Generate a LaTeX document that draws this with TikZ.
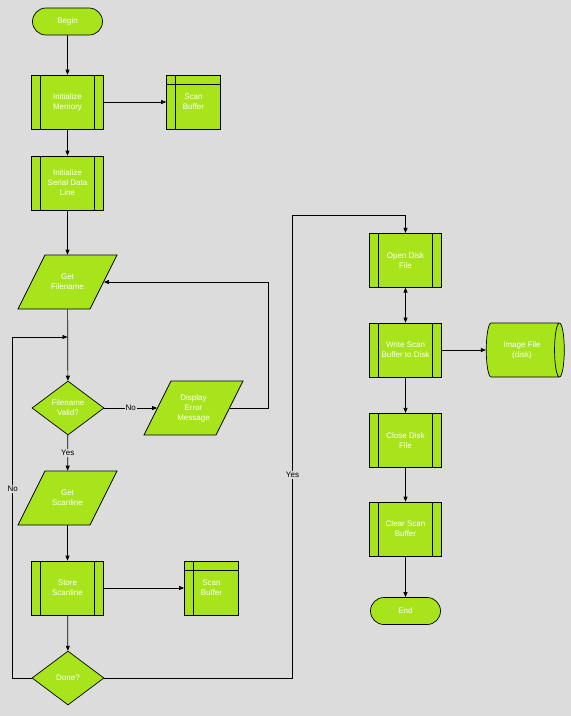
\documentclass[tikz,border=0pt]{standalone}
\usepackage{fontspec}
\setmainfont{Liberation Sans}
\usetikzlibrary{shapes.geometric,shapes.misc,arrows.meta}
\definecolor{chartgreen}{RGB}{168,228,28}
\definecolor{chartgray}{RGB}{220,220,220}

\begin{document}
\begin{tikzpicture}[x=1pt, y=-1pt, font=\fontsize{8}{10}\selectfont, line width=0.7pt,
  >={Triangle[length=5pt,width=4pt]},
  box/.style={draw, fill=chartgreen, text=white, align=center, inner sep=1pt},
  term/.style={box, rounded rectangle, minimum width=72pt, minimum height=27pt},
  proc/.style={box, rectangle, minimum width=72pt, minimum height=54pt,
    path picture={\draw ([xshift=9pt]path picture bounding box.north west) -- ([xshift=9pt]path picture bounding box.south west);
      \draw ([xshift=-9pt]path picture bounding box.north east) -- ([xshift=-9pt]path picture bounding box.south east);}},
  stor/.style={box, rectangle, minimum width=54pt, minimum height=54pt,
    path picture={\draw ([xshift=9pt]path picture bounding box.north west) -- ([xshift=9pt]path picture bounding box.south west);
      \draw ([yshift=-9pt]path picture bounding box.north west) -- ([yshift=-9pt]path picture bounding box.north east);}},
  io/.style={rectangle, text=white, align=center, inner sep=1pt, minimum width=72pt, minimum height=54pt},
  dec/.style={box, diamond, aspect=1.333, minimum width=72pt, minimum height=54pt, inner sep=0pt},
  disk/.style={box, cylinder, aspect=0.5, minimum width=54pt, minimum height=78pt,
    cylinder uses custom fill, cylinder body fill=chartgreen, cylinder end fill=chartgreen},
  lbl/.style={fill=chartgray, inner sep=1pt, text=black}]

  \useasboundingbox[fill=chartgray] (0,0) rectangle (571,716);

  % parallelograms under the io nodes
  \foreach \px/\py in {67.5/282, 193.5/408, 67.5/498}
    \draw[fill=chartgreen] (\px-49.5,\py+27) -- ++(72,0) -- ++(27,-54) -- ++(-72,0) -- cycle;

  % left column
  \node[term] (begin) at (67.5,21.5) {Begin};
  \node[proc] (initmem) at (67.5,102) {Initialize\\Memory};
  \node[stor] (scanbuf1) at (193.5,102) {Scan\\Buffer};
  \node[proc] (initser) at (67.5,183) {Initialize\\Serial Data\\Line};
  \node[io] (getfile) at (67.5,282) {Get\\Filename};
  \node[dec] (valid) at (68,408) {Filename\\Valid?};
  \node[io] (display) at (193.5,408) {Display\\Error\\Message};
  \node[io] (getscan) at (67.5,498) {Get\\Scanline};
  \node[proc] (storescan) at (67.5,588) {Store\\Scanline};
  \node[stor] (scanbuf2) at (211.5,588) {Scan\\Buffer};
  \node[dec] (done) at (68,678) {Done?};

  % right column
  \node[proc] (opendisk) at (405.5,260.3) {Open Disk\\File};
  \node[proc] (writescan) at (405.5,350) {Write Scan\\Buffer to Disk};
  \node[disk] (imagefile) at (522,350) {Image File\\(disk)};
  \node[proc] (closedisk) at (405.5,440.3) {Close Disk\\File};
  \node[proc] (clearscan) at (405.5,529) {Clear Scan\\Buffer};
  \node[term] (endnode) at (405.5,611) {End};

  \coordinate (loopin) at (67.5,337);
  \coordinate (yesup) at (292.5,215);

  \draw[->] (begin) -- (initmem);
  \draw[->] (initmem) -- (scanbuf1);
  \draw[->] (initmem) -- (initser);
  \draw[->] (initser) -- (getfile);
  \draw[->] (getfile) -- (valid);
  \draw[->] (valid) -- (display) node[lbl, midway] {No};
  \draw[->] (display.east) -- ++(38,0) |- (getfile.east);
  \draw[->] (valid) -- (getscan) node[lbl, midway] {Yes};
  \draw[->] (getscan) -- (storescan);
  \draw[->] (storescan) -- (scanbuf2);
  \draw[->] (storescan) -- (done);
  \draw[->] (done.west) -- ++(-19,0) |- (loopin) node[lbl, pos=0.277] {No};
  \draw (done.east) -| (yesup) node[lbl, pos=0.719] {Yes};
  \draw[->] (yesup) -| (opendisk.north);
  \draw[<->] (opendisk) -- (writescan);
  \draw[->] (writescan) -- (imagefile);
  \draw[->] (writescan) -- (closedisk);
  \draw[->] (closedisk) -- (clearscan);
  \draw[->] (clearscan) -- (endnode);
\end{tikzpicture}
\end{document}
